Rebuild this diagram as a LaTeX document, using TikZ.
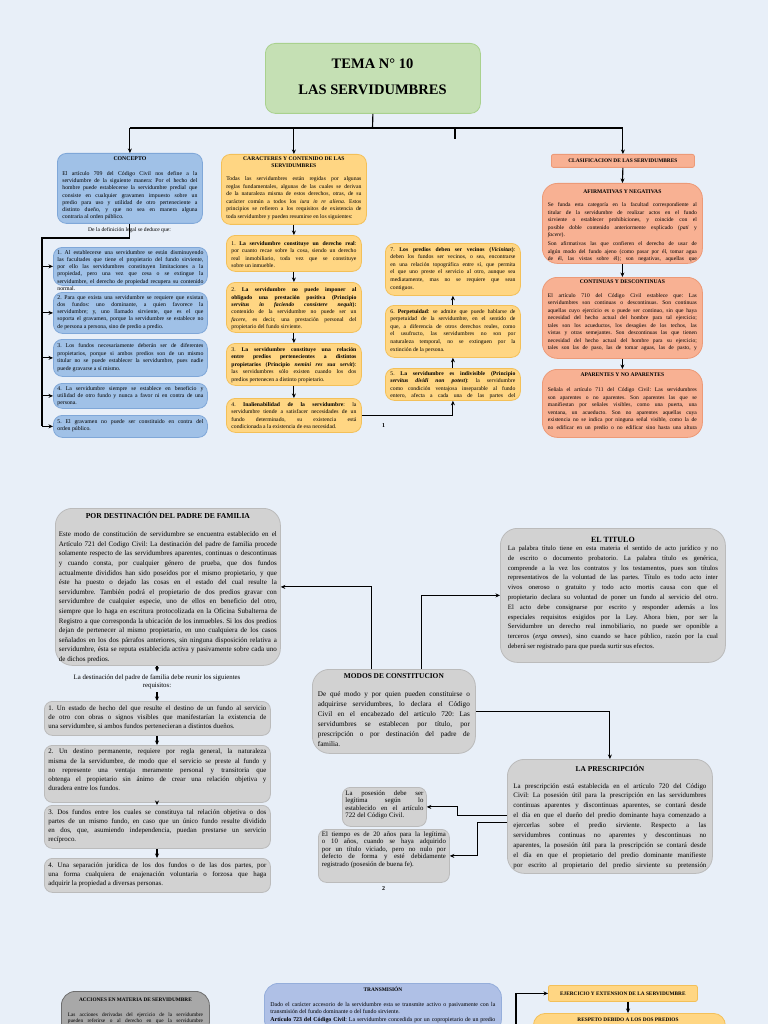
\documentclass[tikz,border=0pt]{standalone}
\usepackage{fontspec}
\setmainfont{Liberation Serif}
\usetikzlibrary{arrows.meta}
\setlength\parindent{0pt}
\frenchspacing
\tolerance=10000 \hbadness=10000 \hfuzz=3pt
\newcommand\jbr{\linebreak}
\newcommand\jend{{\parfillskip=0pt\par}}
\newcommand\TT[1]{{\centering\bfseries #1\par}}
\newcommand\BX[9]{%
  \node[#2, anchor=north west, minimum width=#5pt, minimum height=#6pt] (#1) at (#3,#4) {};
  \node[#7, anchor=north, inner sep=0pt, align=justify] (#1-t) at ([yshift=-#8pt]#1.north) {#9};}
\definecolor{bg}{HTML}{E8EFF8}
\definecolor{grnF}{HTML}{C5E0B4}\definecolor{grnD}{HTML}{A9D18E}
\definecolor{bluF}{HTML}{A0C1E7}\definecolor{bluD}{HTML}{7FA7D8}
\definecolor{yelF}{HTML}{FFD683}\definecolor{yelD}{HTML}{F3C059}
\definecolor{salF}{HTML}{F8B193}\definecolor{salD}{HTML}{EC9A78}
\definecolor{gryF}{HTML}{D2D2D2}\definecolor{gryD}{HTML}{BBBBBB}
\definecolor{dgrF}{HTML}{A8A8A8}\definecolor{dgrD}{HTML}{6E6E6E}
\definecolor{lavF}{HTML}{AFC0E6}\definecolor{lavD}{HTML}{95AEDB}
\tikzset{
 ln/.style={draw=black, line width=1.15pt},
 arr/.style={ln, -{Stealth[length=4.5pt,width=4pt]}},
 bxG/.style={draw=grnD, fill=grnF, line width=0.8pt, rounded corners=10pt},
 bxB/.style={draw=bluD, fill=bluF, line width=0.8pt, rounded corners=9pt},
 bxY/.style={draw=yelD, fill=yelF, line width=0.8pt, rounded corners=9pt},
 bxYs/.style={draw=yelD, fill=yelF, line width=0.8pt, rounded corners=2pt},
 bxYr/.style={draw=yelD, fill=yelF, line width=0.8pt, rounded corners=12pt},
 bxS/.style={draw=salD, fill=salF, line width=0.8pt, rounded corners=15pt},
 bxSs/.style={draw=salD, fill=salF, line width=0.8pt, rounded corners=2pt},
 bxR/.style={draw=gryD, fill=gryF, line width=0.8pt, rounded corners=17pt},
 bxRs/.style={draw=gryD, fill=gryF, line width=0.8pt, rounded corners=8pt},
 bxD/.style={draw=dgrD, fill=dgrF, line width=0.8pt, rounded corners=14pt},
 bxL/.style={draw=lavD, fill=lavF, line width=0.8pt, rounded corners=14pt},
 fA/.style={font=\fontsize{5.8}{7.2}\selectfont},
 fC/.style={font=\fontsize{5.7}{7.5}\selectfont},
 fK/.style={font=\fontsize{5.6}{7.45}\selectfont},
 fG/.style={font=\fontsize{7}{9.6}\selectfont},
 fGb/.style={font=\fontsize{6.9}{9.2}\selectfont},
 fT/.style={font=\fontsize{6.7}{9.8}\selectfont},
 fP/.style={font=\fontsize{6.9}{9.9}\selectfont},
 fM/.style={font=\fontsize{7.2}{10}\selectfont},
 fS/.style={font=\fontsize{6.8}{7.45}\selectfont},
 pgn/.style={font=\fontsize{6}{7}\selectfont\bfseries},
}
\begin{document}
\begin{tikzpicture}[x=1pt,y=-1pt]
\useasboundingbox (0,0) rectangle (768,1024);
\clip (0,0) rectangle (768,1024);
\fill[bg] (0,0) rectangle (768,1024);

% ---------------- page 1 ----------------
\node[bxG, anchor=north west, minimum width=215pt, minimum height=70pt] (tit) at (265,43) {};
\node[font=\fontsize{14.5}{16}\selectfont\bfseries] (tit1) at (372.5,64) {TEMA N° 10};
\node[font=\fontsize{14.5}{16}\selectfont\bfseries] (tit2) at (372.5,90) {LAS SERVIDUMBRES};
\coordinate (tj) at (372.5,128);
\coordinate (stub) at (455,139);

\BX{con}{bxB}{57}{153}{145}{70}{fA, text width=135pt}{3}{%
\TT{CONCEPTO}\vspace{8.3pt}
El artículo 709 del Código Civil nos define a la\jbr
servidumbre de la siguiente manera: Por el hecho del\jbr
hombre puede establecerse la servidumbre predial que\jbr
consiste en cualquier gravamen impuesto sobre un\jbr
predio para uso y utilidad de otro perteneciente a\jbr
distinto dueño, y que no sea en manera alguna\jbr
contraria al orden público.}
\node[font=\fontsize{5.6}{6.5}\selectfont] (dedu) at (129.5,230) {De la definición legal se deduce que:};

\BX{b1}{bxB}{53}{247}{154}{38}{fA, text width=146pt}{3}{%
1. Al establecerse una servidumbre se están disminuyendo\jbr
las facultades que tiene el propietario del fundo sirviente,\jbr
por ello las servidumbres constituyen limitaciones a la\jbr
propiedad, pero una vez que cesa o se extingue la\jbr
servidumbre, el derecho de propiedad recupera su contenido\jbr
normal.}
\BX{b2}{bxB}{53}{292}{154}{41}{fA, text width=146pt}{3}{%
2. Para que exista una servidumbre se requiere que existan\jbr
dos fundos: uno dominante, a quien favorece la\jbr
servidumbre; y, uno llamado sirviente, que es el que\jbr
soporta el gravamen, porque la servidumbre se establece no\jbr
de persona a persona, sino de predio a predio.}
\BX{b3}{bxB}{53}{339}{154}{37}{fA, text width=146pt, font=\fontsize{5.8}{7.8}\selectfont}{4}{%
3. Los fundos necesariamente deberán ser de diferentes\jbr
propietarios, porque si ambos predios son de un mismo\jbr
titular no se puede establecer la servidumbre, pues nadie\jbr
puede gravarse a sí mismo.}
\BX{b4}{bxB}{53}{383}{154}{25}{fA, text width=146pt}{3}{%
4. La servidumbre siempre se establece en beneficio y\jbr
utilidad de otro fundo y nunca a favor ni en contra de una\jbr
persona.}
\BX{b5}{bxB}{53}{415}{154}{22}{fA, text width=146pt}{4}{%
5. El gravamen no puede ser constituido en contra del\jbr
orden público.}

\BX{car}{bxY}{221}{154}{145}{70}{fC, text width=135pt}{3}{%
{\centering\bfseries\fontsize{5.6}{6.7}\selectfont CARACTERES Y CONTENIDO DE LAS\\SERVIDUMBRES\par}\vspace{5.8pt}
Todas las servidumbres están regidas por algunas\jbr
reglas fundamentales, algunas de las cuales se derivan\jbr
de la naturaleza misma de estos derechos, otras, de su\jbr
carácter común a todos los \textit{iura in re aliena}. Estos\jbr
principios se refieren a los requisitos de existencia de\jbr
toda servidumbre y pueden resumirse en los siguientes:}
\BX{c1}{bxY}{226}{235}{135}{36}{fC, text width=125pt, font=\fontsize{5.7}{7.3}\selectfont}{6.5}{%
1. \textbf{La servidumbre constituye un derecho real}:\jbr
por cuanto recae sobre la cosa, siendo un derecho\jbr
real inmobiliario, toda vez que se constituye\jbr
sobre un inmueble.}
\BX{c2}{bxY}{226}{282}{135}{50}{fC, text width=125pt, font=\fontsize{5.7}{7.4}\selectfont}{5.5}{%
2. \textbf{La servidumbre no puede imponer al}\jbr
\textbf{obligado una prestación positiva (Principio}\jbr
\textbf{\textit{servitus in faciendo consistere nequit}):}\jbr
contenido de la servidumbre no puede ser un\jbr
\textit{facere}, es decir, una prestación personal del\jbr
propietario del fundo sirviente.}
\BX{c3}{bxY}{226}{343}{135}{42}{fC, text width=125pt}{4}{%
3. \textbf{La servidumbre constituye una relación}\jbr
\textbf{entre predios pertenecientes a distintos}\jbr
\textbf{propietarios (Principio \textit{nemini res sua servit})}:\jbr
las servidumbres sólo existen cuando los dos\jbr
predios pertenecen a distinto propietario.}
\BX{c4}{bxY}{226}{398}{135}{34}{fC, text width=125pt}{4}{%
4. \textbf{Inalienabilidad de la servidumbre}: la\jbr
servidumbre tiende a satisfacer necesidades de un\jbr
fundo determinado, su existencia está\jbr
condicionada a la existencia de esa necesidad.}

\BX{r7}{bxY}{385}{243}{135}{52}{fC, text width=125pt, font=\fontsize{5.7}{7.6}\selectfont}{4}{%
7. \textbf{Los predios deben ser vecinos (\textit{Vicinitas})}:\jbr
deben los fundos ser vecinos, o sea, encontrarse\jbr
en una relación topográfica entre sí, que permita\jbr
el que uno preste el servicio al otro, aunque sea\jbr
mediatamente, mas no se requiere que sean\jbr
contiguos.}
\BX{r6}{bxY}{385}{305}{135}{52}{fC, text width=125pt, font=\fontsize{5.7}{7.6}\selectfont}{4}{%
6. \textbf{Perpetuidad}: se admite que puede hablarse de\jbr
perpetuidad de la servidumbre, en el sentido de\jbr
que, a diferencia de otros derechos reales, como\jbr
el usufructo, las servidumbres no son por\jbr
naturaleza temporal, no se extinguen por la\jbr
extinción de la persona.}
\BX{r5}{bxY}{385}{368}{135}{32}{fC, text width=125pt, font=\fontsize{5.7}{7.6}\selectfont}{3}{%
5. \textbf{La servidumbre es indivisible (Principio}\jbr
\textbf{\textit{servitus dividi non potest})}: la servidumbre\jbr
como condición ventajosa inseparable al fundo\jbr
entero, afecta a cada una de las partes del\jend}
\node[pgn] (pg1) at (383.5,425.5) {1};

\node[bxSs, anchor=north west, minimum width=143pt, minimum height=13pt, font=\fontsize{5.4}{6}\selectfont\bfseries, inner sep=0pt] (cl) at (551,154) {CLASIFICACION DE LAS SERVIDUMBRES};
\BX{k1}{bxS}{542}{183}{160}{80}{fK, text width=149pt}{6.5}{%
\TT{AFIRMATIVAS Y NEGATIVAS}\vspace{6pt}
Se funda esta categoría en la facultad correspondiente al\jbr
titular de la servidumbre de realizar actos en el fundo\jbr
sirviente o establecer prohibiciones, y coincide con el\jbr
posible doble contenido anteriormente explicado (\textit{pati} y\jbr
\textit{facere}).\par\vspace{1.5pt}
Son afirmativas las que confieren el derecho de usar de\jbr
algún modo del fundo ajeno (como pasar por él, tomar agua\jbr
de él, las vistas sobre él); son negativas, aquellas que\jend}
\BX{k2}{bxS}{542}{277}{160}{81}{fK, text width=149pt}{3}{%
\TT{CONTINUAS Y DESCONTINUAS}\vspace{6pt}
El artículo 710 del Código Civil establece que: Las\jbr
servidumbres son continuas o descontinuas. Son continuas\jbr
aquellas cuyo ejercicio es o puede ser continuo, sin que haya\jbr
necesidad del hecho actual del hombre para tal ejercicio;\jbr
tales son los acueductos, los desagües de los techos, las\jbr
vistas y otras semejantes. Son descontinuas las que tienen\jbr
necesidad del hecho actual del hombre para su ejercicio;\jbr
tales son las de paso, las de tomar aguas, las de pasto, y\jend}
\BX{k3}{bxS}{542}{369}{160}{68}{fK, text width=149pt}{4}{%
\TT{APARENTES Y NO APARENTES}\vspace{7.5pt}
Señala el artículo 711 del Código Civil: Las servidumbres\jbr
son aparentes o no aparentes. Son aparentes las que se\jbr
manifiestan por señales visibles, como una puerta, una\jbr
ventana, un acueducto. Son no aparentes aquellas cuya\jbr
existencia no se indica por ninguna señal visible, como la de\jbr
no edificar en un predio o no edificar sino hasta una altura\jend}

% connectors page 1
\draw[ln] (tit.south) -- (tj);
\draw[ln] (tj -| con.north) -- (tj -| cl.north);
\draw[arr] (tj -| con.north) -- (con.north);
\draw[arr] (tj -| car.north) -- (car.north);
\draw[arr] (tj -| cl.north) -- (cl.north);
\draw[ln] (tj -| stub) -- (stub);
\coordinate (lb) at (42,238);
\draw[ln] (con.south) |- (lb) -- (lb |- b5.west);
\foreach \b in {b1,b2,b3,b4,b5} \draw[arr] (lb |- \b.west) -- (\b.west);
\draw[arr] (car.south) -- (c1.north);
\draw[arr] (c1.south) -- (c2.north);
\draw[arr] (c2.south) -- (c3.north);
\draw[arr] (c3.south) -- (c4.north);
\draw[arr] (c4.east) -| (r5.south);
\draw[arr] (r5.north) -- (r6.south);
\draw[arr] (r6.north) -- (r7.south);
\draw[arr] (cl.south) -- (k1.north);
\draw[arr] (k1.south) -- (k2.north);
\draw[arr] (k2.south) -- (k3.north);

% ---------------- page 2 ----------------
\BX{pd}{bxR}{55}{508}{225}{157}{fG, text width=218pt}{4}{%
\TT{\fontsize{7.6}{9}\selectfont POR DESTINACIÓN DEL PADRE DE FAMILIA}\vspace{8.4pt}
Este modo de constitución de servidumbre se encuentra establecido en el\jbr
Artículo 721 del Codigo Civil: La destinación del padre de familia procede\jbr
solamente respecto de las servidumbres aparentes, continuas o descontinuas\jbr
y cuando consta, por cualquier género de prueba, que dos fundos\jbr
actualmente divididos han sido poseídos por el mismo propietario, y que\jbr
éste ha puesto o dejado las cosas en el estado del cual resulte la\jbr
servidumbre. También podrá el propietario de dos predios gravar con\jbr
servidumbre de cualquier especie, uno de ellos en beneficio del otro,\jbr
siempre que lo haga en escritura protocolizada en la Oficina Subalterna de\jbr
Registro a que corresponda la ubicación de los inmuebles. Si los dos predios\jbr
dejan de pertenecer al mismo propietario, en uno cualquiera de los casos\jbr
señalados en los dos párrafos anteriores, sin ninguna disposición relativa a\jbr
servidumbre, ésta se reputa establecida activa y pasivamente sobre cada uno\jbr
de dichos predios.}
\node[align=center, font=\fontsize{6.8}{7.4}\selectfont] (dd2) at (157,682) {La destinación del padre de familia debe reunir los siguientes\\requisitos:};

\BX{g1}{bxRs}{44}{701}{226}{34}{fGb, text width=218pt}{4}{%
1. Un estado de hecho del que resulte el destino de un fundo al servicio\jbr
de otro con obras o signos visibles que manifestarían la existencia de\jbr
una servidumbre, si ambos fundos pertenecieran a distintos dueños.}
\BX{g2}{bxRs}{44}{745}{226}{57}{fGb, text width=218pt}{4}{%
2. Un destino permanente, requiere por regla general, la naturaleza\jbr
misma de la servidumbre, de modo que el servicio se preste al fundo y\jbr
no represente una ventaja meramente personal y transitoria que\jbr
obtenga el propietario sin ánimo de crear una relación objetiva y\jbr
duradera entre los fundos.}
\BX{g3}{bxRs}{44}{805}{226}{43}{fGb, text width=218pt}{4}{%
3. Dos fundos entre los cuales se constituya tal relación objetiva o dos\jbr
partes de un mismo fundo, en caso que un único fundo resulte dividido\jbr
en dos, que, asumiendo independencia, puedan prestarse un servicio\jbr
recíproco.}
\BX{g4}{bxRs}{44}{858}{226}{34}{fGb, text width=218pt}{4}{%
4. Una separación jurídica de los dos fundos o de las dos partes, por\jbr
una forma cualquiera de enajenación voluntaria o forzosa que haga\jbr
adquirir la propiedad a diversas personas.}

\BX{mod}{bxR}{312}{669}{163}{84}{fM, text width=152pt}{4.7}{%
\TT{\fontsize{7.4}{9}\selectfont MODOS DE CONSTITUCION}\vspace{8pt}
De qué modo y por quien pueden constituirse o\jbr
adquirirse servidumbres, lo declara el Código\jbr
Civil en el encabezado del artículo 720: Las\jbr
servidumbres se establecen por título, por\jbr
prescripción o por destinación del padre de\jbr
familia.}
\BX{sa}{bxRs}{342}{787}{84}{39}{fS, text width=78pt}{3.3}{%
La posesión debe ser\jbr legítima según lo\jbr establecido en el artículo\jbr 722 del Código Civil.}
\BX{sb}{bxRs}{318}{829}{131}{53}{fS, text width=124pt}{2.5}{%
El tiempo es de 20 años para la legítima\jbr
o 10 años, cuando se haya adquirido\jbr
por un título viciado, pero no nulo por\jbr
defecto de forma y esté debidamente\jbr
registrado (posesión de buena fe).}

\BX{ttl}{bxR}{500}{528}{225}{134}{fT, text width=210pt}{8.5}{%
\TT{\fontsize{8}{9}\selectfont EL TITULO}\vspace{-1.3pt}
La palabra título tiene en esta materia el sentido de acto jurídico y no\jbr
de escrito o documento probatorio. La palabra título es genérica,\jbr
comprende a la vez los contratos y los testamentos, pues son títulos\jbr
representativos de la voluntad de las partes. Título es todo acto inter\jbr
vivos oneroso o gratuito y todo acto mortis causa con que el\jbr
propietario declara su voluntad de poner un fundo al servicio del otro.\jbr
El acto debe consignarse por escrito y responder además a los\jbr
especiales requisitos exigidos por la Ley. Ahora bien, por ser la\jbr
Servidumbre un derecho real inmobiliario, no puede ser oponible a\jbr
terceros (\textit{erga omnes}), sino cuando se hace público, razón por la cual\jbr
deberá ser registrado para que pueda surtir sus efectos.}

\BX{pre}{bxR}{507}{759}{205}{114}{fP, text width=193pt}{6.3}{%
\TT{\fontsize{7.4}{9}\selectfont LA PRESCRIPCIÓN}\vspace{6.3pt}
La prescripción está establecida en el artículo 720 del Código\jbr
Civil: La posesión útil para la prescripción en las servidumbres\jbr
continuas aparentes y discontinuas aparentes, se contará desde\jbr
el día en que el dueño del predio dominante haya comenzado a\jbr
ejercerlas sobre el predio sirviente. Respecto a las\jbr
servidumbres continuas no aparentes y descontinuas no\jbr
aparentes, la posesión útil para la prescripción se contará desde\jbr
el día en que el propietario del predio dominante manifieste\jbr
por escrito al propietario del predio sirviente su pretensión\jend}
\node[pgn] (pg2) at (383.5,889) {2};

% connectors page 2
\draw[arr] (dd2.north |- pd.south) -- (dd2.north);
\draw[arr] (dd2.south) -- (dd2.south |- g1.north);
\draw[arr] (g1.south -| dd2.south) -- (g2.north -| dd2.south);
\draw[arr] (g2.south -| dd2.south) -- (g3.north -| dd2.south);
\draw[arr] (g3.south -| dd2.south) -- (g4.north -| dd2.south);
\draw[arr] ([xshift=-22.5pt]mod.north) |- (pd.east);
\draw[arr] ([xshift=27.5pt]mod.north) |- (ttl.west);
\draw[arr] (mod.east) -| (pre.north);
\draw[arr] ([yshift=1pt]pre.west) -| ([xshift=31pt]sa.east) -- (sa.east);
\draw[arr] ([yshift=-6pt]pre.west) -| ([xshift=28pt]sb.east) -- (sb.east);

% ---------------- page 3 (top) ----------------
\BX{acc}{bxD}{61}{991}{148}{45}{font=\fontsize{5.3}{6.6}\selectfont, text width=135pt}{7}{%
\TT{ACCIONES EN MATERIA DE SERVIDUMBRE}\vspace{8pt}
Las acciones derivadas del ejercicio de la servidumbre\jbr
pueden referirse o al derecho en que la servidumbre\jend}
\BX{trn}{bxL}{264}{983}{237}{50}{font=\fontsize{5.9}{7.5}\selectfont, text width=225pt}{4}{%
\TT{\fontsize{5.4}{6}\selectfont TRANSMISIÓN}\vspace{6.8pt}
Dado el carácter accesorio de la servidumbre esta se transmite activo o pasivamente con la\jbr
transmisión del fundo dominante o del fundo sirviente.\par
\textbf{Artículo 723 del Código Civil}: La servidumbre concedida por un copropietario de un predio\jend}
\node[bxYs, anchor=north west, minimum width=149pt, minimum height=16pt, inner sep=0pt, font=\fontsize{5.3}{6}\selectfont\bfseries] (eje) at (548,985) {EJERCICIO Y EXTENSION DE LA SERVIDUMBRE};
\node[bxYr, anchor=north west, minimum width=192pt, minimum height=30pt, inner sep=0pt] (res) at (533,1013) {};
\node[font=\fontsize{5.3}{6}\selectfont\bfseries] (res-t) at (628,1020) {RESPETO DEBIDO A LOS DOS PREDIOS};
\coordinate (ej0) at (516,1030);
\draw[arr] (ej0) |- (eje.west);
\draw[arr] (eje.south -| res-t.north) -- (res.north -| res-t.north);
\end{tikzpicture}
\end{document}
